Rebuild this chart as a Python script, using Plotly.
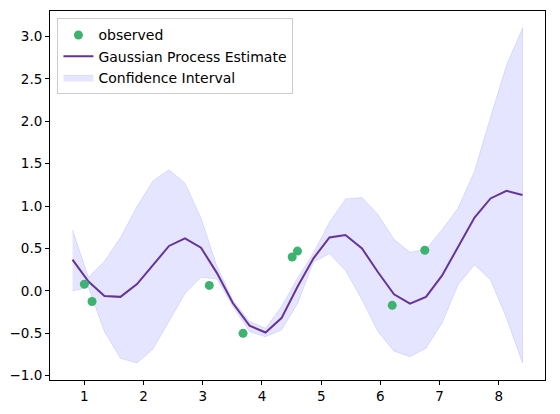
import plotly.graph_objects as go

# GP grid
x_grid = [0.80, 1.07, 1.34, 1.61, 1.89, 2.16, 2.43, 2.70, 2.97, 3.24, 3.51, 3.79, 4.06, 4.33, 4.60,
          4.87, 5.14, 5.41, 5.69, 5.96, 6.23, 6.50, 6.77, 7.04, 7.31, 7.59, 7.86, 8.13, 8.40]
mean = [0.37, 0.11, -0.06, -0.07, 0.08, 0.31, 0.53, 0.62, 0.51, 0.21, -0.145, -0.41, -0.49, -0.32, 0.05,
        0.385, 0.63, 0.66, 0.50, 0.22, -0.04, -0.15, -0.07, 0.18, 0.52, 0.865, 1.09, 1.18, 1.13]
upper = [0.72, 0.16, 0.35, 0.63, 0.995, 1.30, 1.43, 1.27, 0.86, 0.29, -0.11, -0.36, -0.44, -0.185, 0.15,
         0.45, 0.81, 1.085, 1.10, 0.90, 0.61, 0.455, 0.49, 0.72, 0.975, 1.41, 2.05, 2.66, 3.10]
lower = [0.00, 0.04, -0.48, -0.795, -0.85, -0.685, -0.35, -0.03, 0.16, 0.14, -0.185, -0.48, -0.54, -0.46, -0.15,
         0.34, 0.44, 0.24, -0.105, -0.48, -0.71, -0.775, -0.675, -0.38, 0.07, 0.31, 0.13, -0.32, -0.85]

# observations
obs_x = [1.00, 1.13, 3.11, 3.68, 4.51, 4.60, 6.20, 6.75]
obs_y = [0.08, -0.125, 0.065, -0.50, 0.40, 0.47, -0.17, 0.48]

y_ticks = [-1.0, -0.5, 0.0, 0.5, 1.0, 1.5, 2.0, 2.5, 3.0]
x_ticks = [1, 2, 3, 4, 5, 6, 7, 8]

fig = go.Figure()
fig.add_trace(go.Scatter(
    x=x_grid + x_grid[::-1], y=upper + lower[::-1], fill="toself",
    fillcolor="rgba(0,0,255,0.1)", line=dict(color="rgba(0,0,255,0.1)", width=1),
    mode="lines", name="Confidence Interval", legendrank=3))
fig.add_trace(go.Scatter(
    x=x_grid, y=mean, mode="lines", line=dict(color="#663399", width=2),
    name="Gaussian Process Estimate", legendrank=2))
fig.add_trace(go.Scatter(
    x=obs_x, y=obs_y, mode="markers", marker=dict(color="#3CB371", size=9),
    name="observed", legendrank=1))

axis_common = dict(showgrid=False, zeroline=False, showline=True, linecolor="black", linewidth=1,
                   mirror=True, ticks="outside", ticklen=4, tickcolor="black", automargin=False,
                   tickfont=dict(family="DejaVu Sans", size=13.5, color="black"))
fig.update_layout(
    width=560, height=414,
    margin=dict(l=50, r=15, t=11, b=34),
    plot_bgcolor="white", paper_bgcolor="white",
    font=dict(family="DejaVu Sans", size=13.5, color="black"),
    xaxis=dict(range=[0.42, 8.78], tickvals=x_ticks, **axis_common),
    yaxis=dict(range=[-1.05, 3.30], tickvals=y_ticks, tickformat=".1f", **axis_common),
    legend=dict(x=0.015, y=0.98, xanchor="left", yanchor="top",
                bordercolor="#cccccc", borderwidth=1, bgcolor="rgba(255,255,255,0.8)",
                font=dict(family="DejaVu Sans", size=14), tracegroupgap=0),
    showlegend=True,
)
fig.write_html("out.html")
